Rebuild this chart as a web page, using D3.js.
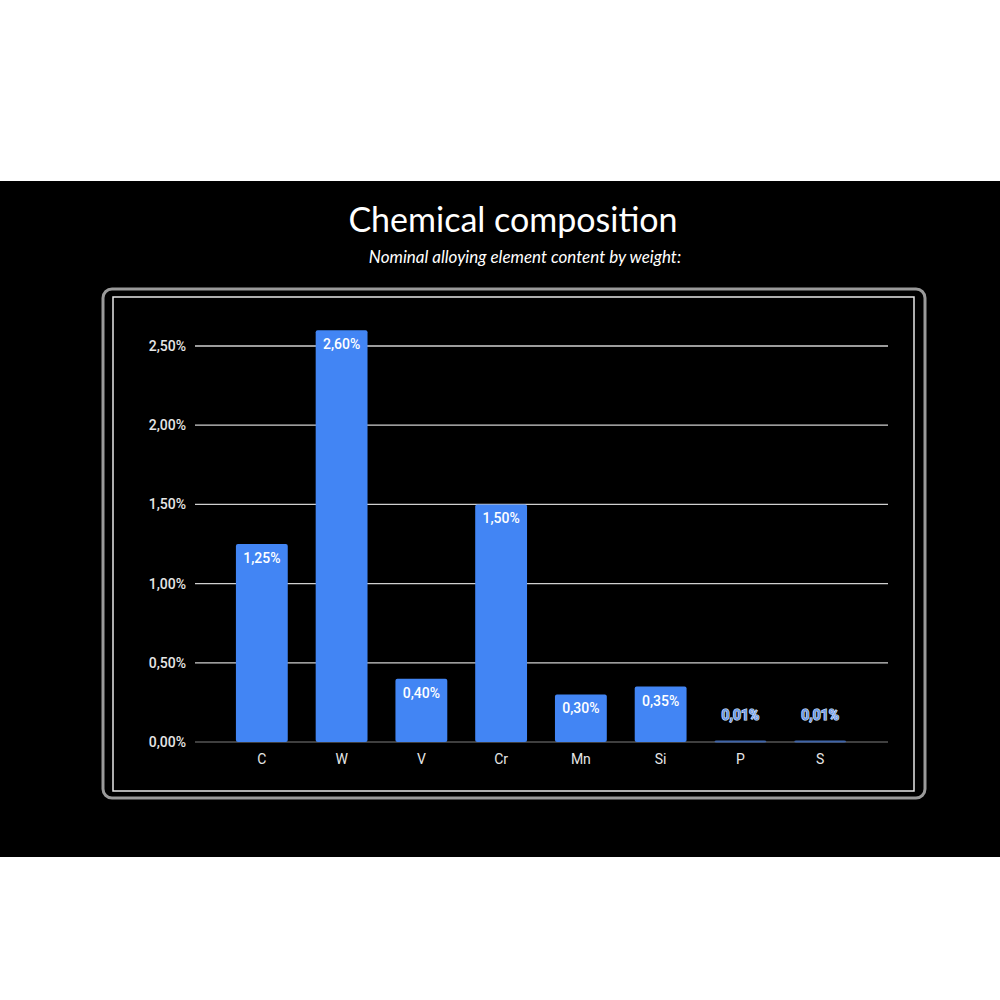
<!DOCTYPE html>
<html><head><meta charset="utf-8">
<script src="https://cdn.jsdelivr.net/npm/d3@7"></script>
<style>body{margin:0;background:#fff}</style>
</head><body>
<svg id="chart" width="1000" height="1000"></svg>
<script>
// Chart data
const elements = ['C', 'W', 'V', 'Cr', 'Mn', 'Si', 'P', 'S'];
const percents = [1.25, 2.60, 0.40, 1.50, 0.30, 0.35, 0.01, 0.01];
const yTicks = [0, 0.5, 1.0, 1.5, 2.0, 2.5];

const svg = d3.select('#chart');
const fmt = v => v.toFixed(2).replace('.', ',') + '%';

// Black band
svg.append('rect').attr('x', 0).attr('y', 181).attr('width', 1000).attr('height', 676).attr('fill', '#000');

svg.append('text').attr('x', 513).attr('y', 232).attr('text-anchor', 'middle')
    .attr('fill', '#fff').attr('font-family', 'Lato, sans-serif').attr('font-size', 34)
    .text('Chemical composition');
svg.append('text').attr('x', 525).attr('y', 263).attr('text-anchor', 'middle')
    .attr('fill', '#fff').attr('font-family', 'Lato, sans-serif').attr('font-style', 'italic').attr('font-size', 17)
    .text('Nominal alloying element content by weight:');

// Frame
svg.append('rect').attr('x', 103).attr('y', 289).attr('width', 822).attr('height', 509).attr('rx', 9)
    .attr('fill', 'none').attr('stroke', '#9a9a9a').attr('stroke-width', 3);
svg.append('rect').attr('x', 113).attr('y', 297).attr('width', 801).attr('height', 494)
    .attr('fill', 'none').attr('stroke', '#e8e8e8').attr('stroke-width', 1.5);

// Scales
const x = d3.scaleBand().domain(elements).range([208, 874]).padding(0.35);
const y = d3.scaleLinear().domain([0, 2.5]).range([742, 346]);

const g = svg.append('g').attr('font-family', 'Roboto, Arial, sans-serif');

g.selectAll('.grid').data(yTicks).join('line')
    .attr('x1', 195).attr('x2', 888)
    .attr('y1', d => y(d)).attr('y2', d => y(d))
    .attr('stroke', d => d === 0 ? '#555' : '#d0d0d0').attr('stroke-width', 1.3);

g.selectAll('.ytl').data(yTicks).join('text')
    .attr('x', 186).attr('y', d => y(d) + 5).attr('text-anchor', 'end')
    .attr('fill', '#e6e6e6').attr('font-size', 14).attr('font-weight', 500)
    .text(fmt);

g.selectAll('.bar').data(percents).join('rect')
    .attr('x', (d, i) => x(elements[i]))
    .attr('width', x.bandwidth())
    .attr('y', d => y(d))
    .attr('height', d => Math.max(2, 742 - y(d)))
    .attr('rx', 2)
    .attr('fill', d => d < 0.05 ? '#3f64a8' : '#4285f4');

g.selectAll('.vl').data(percents).join('text')
    .attr('x', (d, i) => x(elements[i]) + x.bandwidth() / 2)
    .attr('y', d => d < 0.05 ? y(d) - 20 : y(d) + 19)
    .attr('text-anchor', 'middle').attr('font-size', 14).attr('font-weight', d => d < 0.05 ? 700 : 500)
    .attr('fill', d => d < 0.05 ? '#6f9de8' : '#fff')
    .attr('stroke', d => d < 0.05 ? '#dfe8ff' : 'none').attr('stroke-width', 1.2)
    .attr('paint-order', 'stroke')
    .text(fmt);

g.selectAll('.xl').data(elements).join('text')
    .attr('x', d => x(d) + x.bandwidth() / 2).attr('y', 764)
    .attr('text-anchor', 'middle').attr('fill', '#e6e6e6').attr('font-size', 14)
    .text(d => d);
</script>
</body></html>
